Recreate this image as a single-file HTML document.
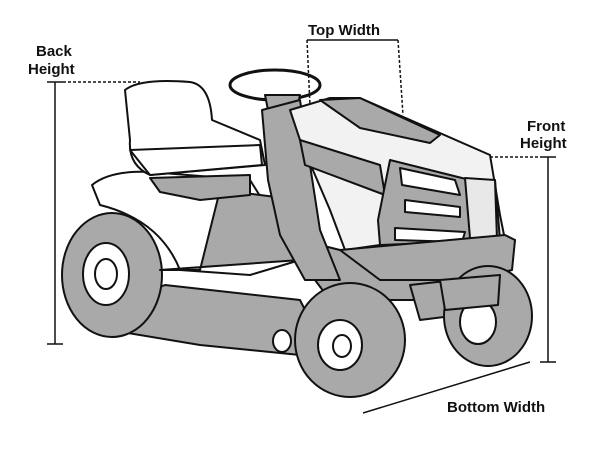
<!DOCTYPE html>
<html><head><style>
html,body{margin:0;padding:0;background:#fff;width:600px;height:450px;overflow:hidden}
svg{display:block}
text{font-family:"Liberation Sans",sans-serif;font-weight:bold;font-size:15px;fill:#111}
</style></head><body>
<svg width="600" height="450" viewBox="0 0 600 450" stroke="#111" stroke-width="2" stroke-linejoin="round">
<!-- dimension lines -->
<g stroke-width="1.5" fill="none">
<line x1="55" y1="82" x2="55" y2="344"/><line x1="47" y1="82" x2="63" y2="82"/><line x1="47" y1="344" x2="63" y2="344"/>
<line x1="63" y1="82" x2="140" y2="82" stroke-dasharray="3,2"/>
<line x1="307" y1="40" x2="398" y2="40"/>
<line x1="307" y1="40" x2="311" y2="128" stroke-dasharray="3,2"/>
<line x1="398" y1="40" x2="403" y2="115" stroke-dasharray="3,2"/>
<line x1="548" y1="157" x2="548" y2="362"/><line x1="540" y1="157" x2="556" y2="157"/><line x1="540" y1="362" x2="556" y2="362"/>
<line x1="490" y1="157" x2="540" y2="157" stroke-dasharray="3,2"/>
<line x1="363" y1="413" x2="530" y2="362"/>
</g>
<g stroke="none">
<text x="36" y="56">Back</text><text x="28" y="74">Height</text>
<text x="308" y="35">Top Width</text>
<text x="527" y="131">Front</text><text x="520" y="148">Height</text>
<text x="447" y="412">Bottom Width</text>
</g>
<!-- deck -->
<path d="M100 310 L165 285 L300 300 L320 340 L300 355 L200 345 L110 330 Z" fill="#a9a9a9"/>
<!-- back wheel -->
<ellipse cx="112" cy="275" rx="50" ry="62" fill="#a9a9a9"/>
<ellipse cx="106" cy="274" rx="23" ry="31" fill="#fff"/>
<ellipse cx="106" cy="274" rx="11" ry="15" fill="#fff"/>
<!-- fender -->
<path d="M92 185 Q110 170 150 172 L250 180 L300 260 L250 275 L180 270 Q160 220 100 205 Z" fill="#fff"/>
<!-- body gray -->
<path d="M160 270 L300 260 L330 300 L420 300 L510 270 L515 240 L470 250 L340 250 L300 240 L300 200 L220 190 L200 270 Z" fill="#a9a9a9"/>
<!-- seat -->
<path d="M125 90 Q140 78 190 82 Q210 85 212 120 L260 140 L265 165 L150 175 Q128 165 130 140 Z" fill="#fff"/>
<path d="M130 150 L260 145 L262 165 L150 175 Z" fill="#fff"/>
<path d="M150 178 L250 175 L250 195 L200 200 L160 192 Z" fill="#a9a9a9"/>
<!-- steering -->
<ellipse cx="275" cy="85" rx="45" ry="15" fill="none" stroke-width="3"/>
<path d="M265 95 L300 95 L295 120 L270 120 Z" fill="#a9a9a9"/>
<!-- hood column -->
<path d="M262 110 L300 100 L320 230 L340 280 L305 280 L280 235 L268 180 Z" fill="#a9a9a9"/>
<!-- hood -->
<path d="M290 110 L330 98 L360 98 L490 155 L500 215 L505 240 L380 245 L345 250 L330 210 L300 140 Z" fill="#f2f2f2"/>
<path d="M320 100 L360 98 L440 135 L430 143 L360 128 Z" fill="#a9a9a9"/>
<path d="M300 140 L380 165 L385 195 L305 165 Z" fill="#a9a9a9"/>
<path d="M390 160 L470 180 L495 180 L500 240 L380 245 L378 220 Z" fill="#a9a9a9"/>
<path d="M400 168 L455 180 L460 195 L402 185 Z" fill="#fff"/>
<path d="M405 200 L460 207 L460 217 L405 212 Z" fill="#fff"/>
<path d="M395 228 L465 232 L462 242 L395 240 Z" fill="#fff"/>
<path d="M465 178 L495 180 L497 240 L470 238 Z" fill="#e8e8e8"/>
<!-- bumper -->
<path d="M340 250 L505 235 L515 240 L512 270 L470 280 L380 280 Z" fill="#a9a9a9"/>
<path d="M410 285 L500 275 L500 310 L420 320 Z" fill="#a9a9a9"/>
<!-- front right wheel -->
<ellipse cx="488" cy="316" rx="44" ry="50" fill="#a9a9a9"/>
<ellipse cx="478" cy="322" rx="18" ry="22" fill="#fff"/>
<path d="M440 280 L500 275 L498 305 L445 310 Z" fill="#a9a9a9"/>
<!-- front left wheel -->
<ellipse cx="350" cy="340" rx="55" ry="57" fill="#a9a9a9"/>
<ellipse cx="340" cy="345" rx="22" ry="25" fill="#fff"/>
<ellipse cx="342" cy="346" rx="9" ry="11" fill="#fff"/>
<ellipse cx="282" cy="341" rx="9" ry="11" fill="#fff"/>
</svg>
</body></html>
